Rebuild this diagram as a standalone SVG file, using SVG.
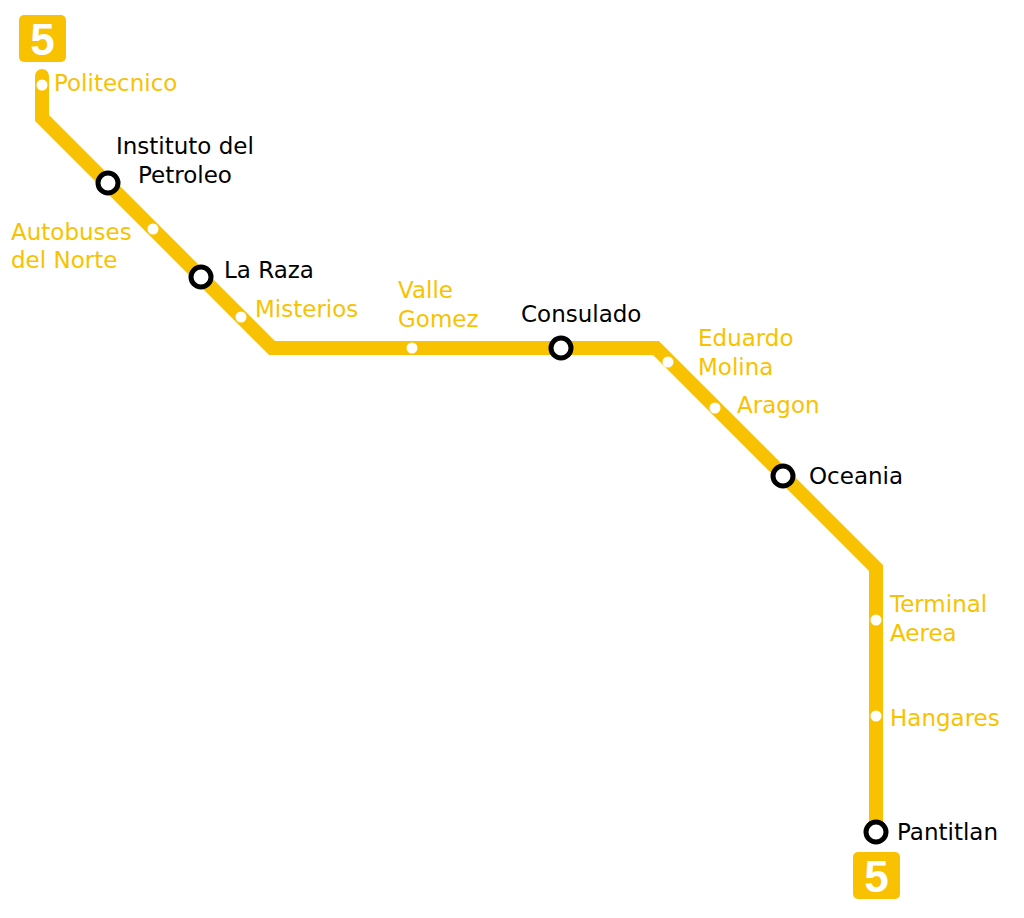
<svg xmlns="http://www.w3.org/2000/svg" width="1024" height="918" viewBox="0 0 1024 918">
<style>
text{font-family:"DejaVu Sans",sans-serif;font-size:23px}
.y{fill:#F9C200}.k{fill:#000}
.dot{fill:#fff}
.ic{fill:#fff;stroke:#000;stroke-width:5}
.badge{fill:#F9C200}
.bt{fill:#fff;font-family:"Liberation Sans",Arial,sans-serif;font-weight:bold;font-size:44px;text-anchor:middle}
</style>
<rect width="1024" height="918" fill="#fff"/>
<g id="connectors">
<path d="M42,76 L42,118 L272,348 L656,348 L876,568 L876,832" fill="none" stroke="#F9C200" stroke-width="14" stroke-linecap="round" stroke-linejoin="miter"/>
</g>
<g id="badge-top"><rect class="badge" x="19" y="15" width="47" height="47" rx="5"/><text class="bt" x="42.5" y="55">5</text></g>
<g id="badge-bottom"><rect class="badge" x="853" y="852" width="47" height="47" rx="5"/><text class="bt" x="876.5" y="892">5</text></g>
<g id="politecnico"><circle class="dot" cx="42" cy="85" r="5.5"/><text class="y" x="54" y="91">Politecnico</text></g>
<g id="instituto"><circle class="ic" cx="108" cy="183" r="10"/><text class="k" x="116" y="154">Instituto del</text><text class="k" x="138" y="183">Petroleo</text></g>
<g id="autobuses"><circle class="dot" cx="153" cy="229" r="5.5"/><text class="y" x="11" y="240">Autobuses</text><text class="y" x="11" y="268">del Norte</text></g>
<g id="laraza"><circle class="ic" cx="201" cy="277" r="10"/><text class="k" x="224" y="278">La Raza</text></g>
<g id="misterios"><circle class="dot" cx="241" cy="317" r="5.5"/><text class="y" x="255" y="317">Misterios</text></g>
<g id="valle"><circle class="dot" cx="412" cy="348" r="5.5"/><text class="y" x="398" y="298">Valle</text><text class="y" x="398" y="327">Gomez</text></g>
<g id="consulado"><circle class="ic" cx="561" cy="348" r="10"/><text class="k" x="521" y="322">Consulado</text></g>
<g id="eduardo"><circle class="dot" cx="668" cy="362" r="5.5"/><text class="y" x="698" y="346">Eduardo</text><text class="y" x="698" y="375">Molina</text></g>
<g id="aragon"><circle class="dot" cx="715" cy="408" r="5.5"/><text class="y" x="737" y="413">Aragon</text></g>
<g id="oceania"><circle class="ic" cx="783" cy="476" r="10"/><text class="k" x="809" y="484">Oceania</text></g>
<g id="terminal"><circle class="dot" cx="876" cy="620" r="5.5"/><text class="y" x="890" y="612">Terminal</text><text class="y" x="890" y="641">Aerea</text></g>
<g id="hangares"><circle class="dot" cx="876" cy="716" r="5.5"/><text class="y" x="890" y="726">Hangares</text></g>
<g id="pantitlan"><circle class="ic" cx="876" cy="832" r="10"/><text class="k" x="897" y="840">Pantitlan</text></g>
</svg>
